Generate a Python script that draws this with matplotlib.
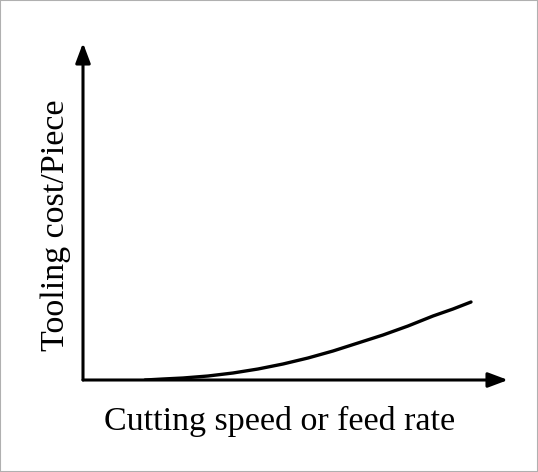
import matplotlib.pyplot as plt
from matplotlib.patches import Rectangle

# curve (arbitrary units, origin at the axes corner)
speed = [62, 80, 100, 125, 150, 175, 200, 225, 250, 275, 300, 325, 350, 370, 388]
tool_cost = [0, 1, 2, 4, 7, 11, 16, 22, 29, 37, 45, 54, 64, 71, 78]

W, H = 538, 472
fig = plt.figure(figsize=(W / 100, H / 100), dpi=100)
plt.rcParams["font.family"] = ["Liberation Serif", "DejaVu Serif"]

ax = fig.add_axes([83 / W, (H - 380) / H, 425 / W, 337 / H])
ax.set_xlim(0, 425)
ax.set_ylim(0, 337)
ax.axis("off")

ax.plot(speed, tool_cost, color="black", lw=2.4, solid_capstyle="round",
        solid_joinstyle="round")

arrow = dict(arrowstyle="-|>,head_length=1.2,head_width=0.45", color="black", lw=2.2,
             shrinkA=0, shrinkB=0)
ax.annotate("", xy=(1, 0), xytext=(0, 0), xycoords="axes fraction", arrowprops=arrow)
ax.annotate("", xy=(0, 1), xytext=(0, 0), xycoords="axes fraction", arrowprops=arrow)

fig.text(280 / W, 1 - 421 / H, "Cutting speed or feed rate", ha="center", va="center",
         fontsize=24.5)
fig.text(56 / W, 1 - 225 / H, "Tooling cost/Piece", ha="center", va="center",
         rotation=90, fontsize=24.5)

fig.patches.append(Rectangle((0, 0), 1, 1, transform=fig.transFigure, fill=False,
                             edgecolor="#b0b0b0", lw=1.5))

fig.savefig("out.png", dpi=100, facecolor="white")
